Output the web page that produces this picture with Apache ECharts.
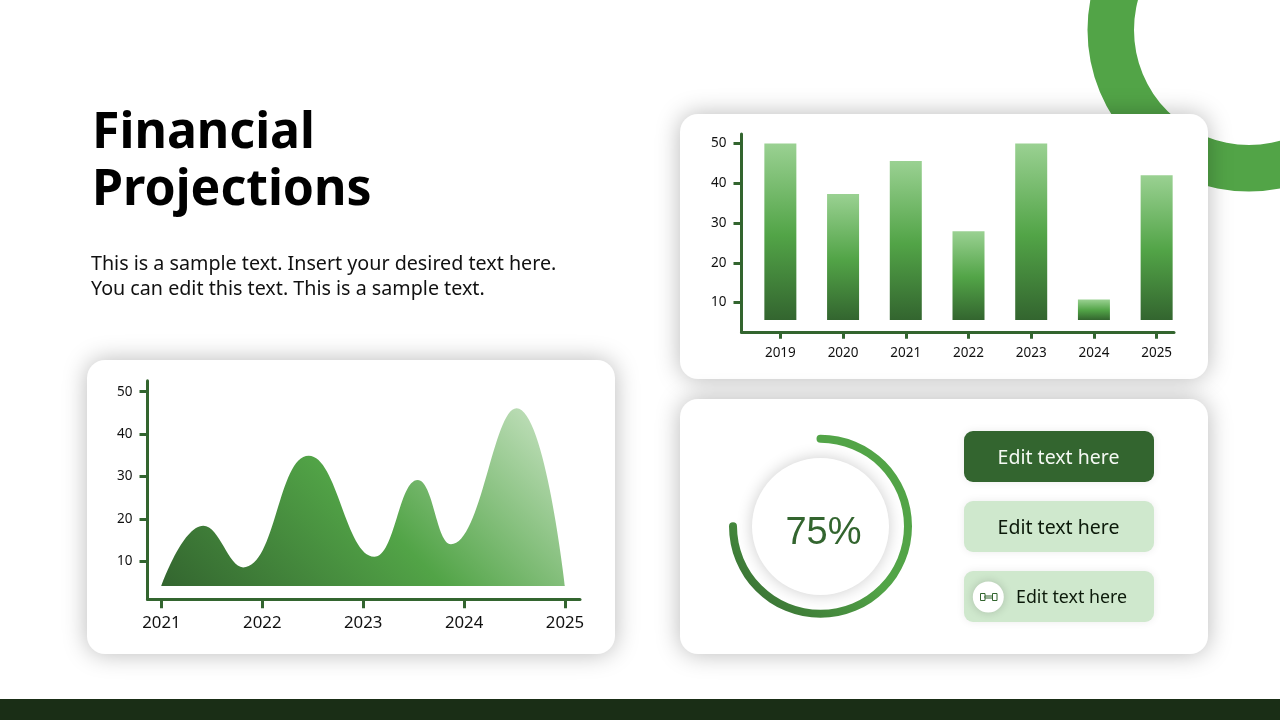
<!DOCTYPE html>
<html>
<head>
<meta charset="utf-8">
<style>html,body{margin:0;padding:0;background:#fff}#c{width:1280px;height:720px}</style>
<script src="https://cdn.jsdelivr.net/npm/echarts@6/dist/echarts.min.js"></script>
</head>
<body>
<div id="c"></div>
<script>
const barCategories = ['2019','2020','2021','2022','2023','2024','2025'];
const barValues = [50, 37.3, 45.6, 27.9, 50, 10.7, 42];
const yTicks = [10,20,30,40,50];
const areaYears = [2021,2021.415,2021.81,2022.46,2023.11,2023.54,2023.87,2024.52,2025];
const areaValues = [4.22,18.4,8.6,34.9,11.1,29.2,14.05,46.1,4.22];
const gaugeValue = 75;
const buttonLabels = ['Edit text here','Edit text here','Edit text here'];
const titleText = 'Financial\nProjections';
const bodyText = 'This is a sample text. Insert your desired text here.\nYou can edit this text. This is a sample text.';

const DARK='#33652f', MID='#52a447', FONT='"Noto Sans"';
const card=(x,y,w,h)=>({type:'rect',shape:{x,y,width:w,height:h,r:18},style:{fill:'#fff',shadowBlur:24,shadowColor:'rgba(0,0,0,0.28)'}});
const btn=(y,fill)=>({type:'rect',shape:{x:964,y,width:190,height:51,r:9},style:{fill,shadowBlur:8,shadowColor:'rgba(0,0,0,0.08)'}});
const txt=(x,y,text,font,fill,align)=>({type:'text',x,y,style:{text,font,fill,align:align||'left',verticalAlign:'middle'}});
const noAxisExtras={axisTick:{show:false},axisLabel:{show:false},splitLine:{show:false}};
const axisLine={show:true,onZero:false,lineStyle:{color:DARK,width:3}};
const tick=(len)=>({show:true,length:len,lineStyle:{color:DARK,width:3}});

const option={
  animation:false,
  backgroundColor:'#fff',
  graphic:{elements:[
    {type:'ring',shape:{cx:1249,cy:30,r:161.5,r0:115},style:{fill:MID}},
    card(87,360,528,294),card(680,114,528,265),card(680,399,528,255),
    {type:'rect',shape:{x:0,y:699,width:1280,height:21},style:{fill:'#1a2e16'}},
    {type:'text',x:92,y:105,style:{text:titleText,font:'bold 50px '+FONT,lineHeight:57,fill:'#000'}},
    {type:'text',x:91,y:252,style:{text:bodyText,font:'19.7px '+FONT,lineHeight:25,fill:'#111'}},
    {type:'circle',shape:{cx:820.5,cy:526.5,r:68.5},style:{fill:'#fff',shadowBlur:16,shadowColor:'rgba(0,0,0,0.2)'}},
    btn(431,DARK),btn(501,'#cfe8cd'),btn(571,'#cfe8cd'),
    txt(1058.5,458,buttonLabels[0],'19.5px '+FONT,'#f4f9f3','center'),
    txt(1058.5,528,buttonLabels[1],'19.5px '+FONT,'#0c1a0a','center'),
    {type:'circle',shape:{cx:988.3,cy:597,r:15.5},style:{fill:'#fff',shadowBlur:10,shadowColor:'rgba(0,0,0,0.18)'}},
    {type:'rect',shape:{x:980.5,y:593.5,width:4.5,height:7},style:{fill:'#fff',stroke:DARK,lineWidth:1}},
    {type:'rect',shape:{x:992.5,y:593.5,width:4.5,height:7},style:{fill:'#fff',stroke:DARK,lineWidth:1}},
    {type:'rect',shape:{x:985,y:596,width:7.5,height:2},style:{fill:'#fff',stroke:DARK,lineWidth:1}},
    txt(1016,598,buttonLabels[2],'17.8px '+FONT,'#0c1a0a')
  ]},
  grid:[
    {left:741.5,top:134,width:432.5,height:198},
    {left:749,top:134,width:439,height:186},
    {left:147.5,top:380.7,width:432.5,height:218.6},
    {left:161.4,top:380.7,width:403.6,height:205.3}
  ],
  xAxis:[
    {gridIndex:0,type:'value',min:0,max:1,axisLine,...noAxisExtras},
    {gridIndex:1,type:'category',data:barCategories,axisLine:{show:false},offset:11.7,
      axisTick:{...tick(7),alignWithLabel:true},
      axisLabel:{color:'#111',fontFamily:FONT,fontSize:13.5,margin:14,interval:0},splitLine:{show:false}},
    {gridIndex:2,type:'value',min:0,max:1,axisLine,...noAxisExtras},
    {gridIndex:3,type:'value',min:2021,max:2025,interval:1,axisLine:{show:false},offset:13.3,
      axisTick:tick(9),
      axisLabel:{color:'#111',fontFamily:FONT,fontSize:16.8,margin:15,formatter:v=>String(v),hideOverlap:false},splitLine:{show:false}}
  ],
  yAxis:[
    {gridIndex:0,type:'value',min:2.6,max:52.4,axisLine,splitLine:{show:false},
      axisTick:{...tick(8),customValues:yTicks},
      axisLabel:{color:'#111',fontFamily:FONT,fontSize:13.5,margin:15,customValues:yTicks}},
    {gridIndex:1,type:'value',min:5.55,max:52.4,show:false},
    {gridIndex:2,type:'value',min:1.04,max:52.6,axisLine,splitLine:{show:false},
      axisTick:{...tick(8),customValues:yTicks},
      axisLabel:{color:'#111',fontFamily:FONT,fontSize:13.5,margin:15,customValues:yTicks}},
    {gridIndex:3,type:'value',min:4.22,max:52.6,show:false}
  ],
  series:[
    {type:'bar',xAxisIndex:1,yAxisIndex:1,data:barValues,barWidth:32,
      itemStyle:{color:{type:'linear',x:0,y:0,x2:0,y2:1,colorStops:[
        {offset:0,color:'#9ad192'},{offset:0.52,color:MID},{offset:1,color:DARK}]}}},
    {type:'line',xAxisIndex:3,yAxisIndex:3,smooth:0.45,showSymbol:false,
      data:areaYears.map((y,i)=>[y,areaValues[i]]),
      lineStyle:{width:0},
      areaStyle:{origin:'start',opacity:1,color:{type:'linear',x:0,y:1,x2:0.72,y2:-0.63,colorStops:[
        {offset:0,color:DARK},{offset:0.49,color:MID},{offset:1,color:'#cbe5c6'}]}}},
    {type:'gauge',center:[820.5,526.3],radius:91.5,startAngle:90,endAngle:-270,min:0,max:100,
      data:[{value:gaugeValue}],
      progress:{show:true,width:8,roundCap:true,itemStyle:{color:{type:'linear',x:0,y:1,x2:1,y2:0,colorStops:[
        {offset:0,color:DARK},{offset:0.5,color:MID},{offset:1,color:MID}]}}},
      axisLine:{show:false},axisTick:{show:false},splitLine:{show:false},axisLabel:{show:false},
      pointer:{show:false},anchor:{show:false},title:{show:false},
      detail:{formatter:'{value}%',offsetCenter:[3,7],color:DARK,fontFamily:'"Liberation Sans"',fontSize:38,fontWeight:'normal'}}
  ]
};
const chart=echarts.init(document.getElementById('c'),null,{renderer:'canvas',width:1280,height:720});
chart.setOption(option);
</script>
</body>
</html>
